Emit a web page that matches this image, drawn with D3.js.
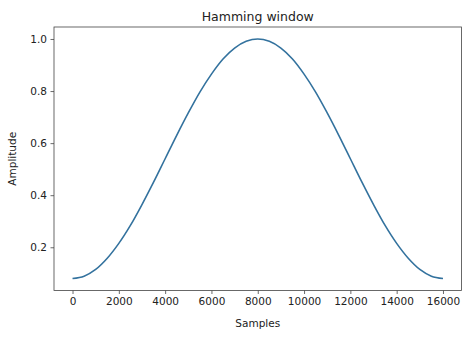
<!DOCTYPE html>
<html>
<head>
<meta charset="utf-8">
<script src="https://cdn.jsdelivr.net/npm/d3@7"></script>
<style>
body { margin: 0; background: #fff; }
text { font-family: "DejaVu Sans", sans-serif; fill: #222; }
</style>
</head>
<body>
<script>
var w = 474, h = 337;

// values, every 500 samples
var samples = [0, 500, 1000, 1500, 2000, 2500, 3000, 3500, 4000, 4500, 5000, 5500, 6000, 6500, 7000, 7500, 8000,
               8500, 9000, 9500, 10000, 10500, 11000, 11500, 12000, 12500, 13000, 13500, 14000, 14500, 15000, 15500, 16000];
var amplitude = [0.08, 0.089, 0.115, 0.158, 0.215, 0.284, 0.364, 0.45, 0.54, 0.63, 0.716, 0.796, 0.865, 0.923, 0.965, 0.991, 1.0,
                 0.991, 0.965, 0.923, 0.865, 0.796, 0.716, 0.63, 0.54, 0.45, 0.364, 0.284, 0.215, 0.158, 0.115, 0.089, 0.08];
var xTicks = [0, 2000, 4000, 6000, 8000, 10000, 12000, 14000, 16000];
var yTicks = [0.2, 0.4, 0.6, 0.8, 1.0];

var pl = 54, pt = 27, pr = 461.5, pb = 290.5;

var svg = d3.select("body").append("svg")
    .attr("width", w)
    .attr("height", h);

var x = d3.scaleLinear().domain([-800, 16800]).range([pl, pr]);
var y = d3.scaleLinear().domain([0.034, 1.046]).range([pb, pt]);

var pts = samples.map(function(s, i) { return [s, amplitude[i]]; });

svg.append("path")
    .datum(pts)
    .attr("fill", "none")
    .attr("stroke", "#33729e")
    .attr("stroke-width", 1.6)
    .attr("d", d3.line()
        .x(function(d) { return x(d[0]); })
        .y(function(d) { return y(d[1]); })
        .curve(d3.curveCatmullRom));

var xAxis = svg.append("g")
    .attr("transform", "translate(0," + pb + ")")
    .call(d3.axisBottom(x).tickValues(xTicks).tickSize(3.5).tickPadding(3.5).tickFormat(d3.format("d")));
var yAxis = svg.append("g")
    .attr("transform", "translate(" + pl + ",0)")
    .call(d3.axisLeft(y).tickValues(yTicks).tickSize(3.5).tickPadding(3.5).tickFormat(d3.format(".1f")));

[xAxis, yAxis].forEach(function(a) {
    a.select(".domain").remove();
    a.selectAll(".tick line").attr("stroke", "#444").attr("stroke-width", 0.8);
    a.selectAll(".tick text").style("font-size", "10.5px").style("fill", "#222")
        .style("font-family", "'DejaVu Sans', sans-serif");
});

svg.append("rect")
    .attr("x", pl).attr("y", pt)
    .attr("width", pr - pl).attr("height", pb - pt)
    .attr("fill", "none").attr("stroke", "#444").attr("stroke-width", 0.8);

svg.append("text")
    .attr("x", (pl + pr) / 2).attr("y", 21)
    .attr("text-anchor", "middle")
    .style("font-size", "12.5px")
    .text("Hamming window");

svg.append("text")
    .attr("x", (pl + pr) / 2).attr("y", 327)
    .attr("text-anchor", "middle")
    .style("font-size", "10.5px")
    .text("Samples");

svg.append("text")
    .attr("transform", "translate(16," + ((pt + pb) / 2) + ") rotate(-90)")
    .attr("text-anchor", "middle")
    .style("font-size", "10.5px")
    .text("Amplitude");
</script>
</body>
</html>
